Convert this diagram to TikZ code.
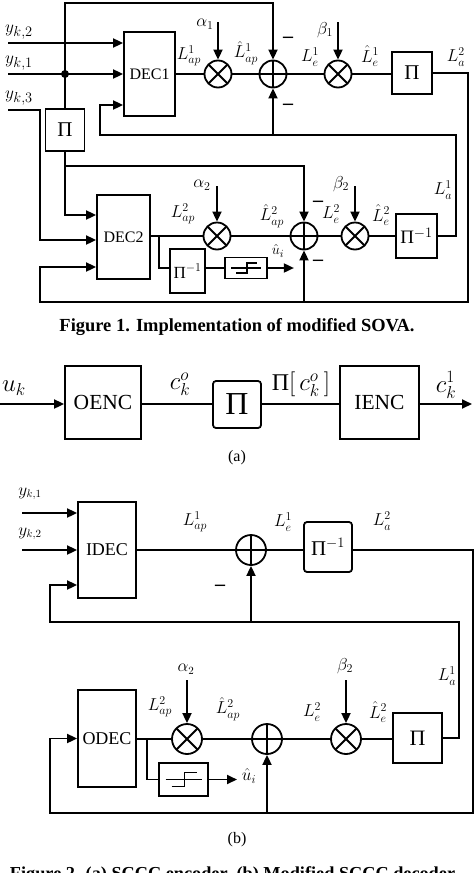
\documentclass[tikz,border=0pt]{standalone}
\usepackage{fontspec}
\usepackage{graphicx}
\setmainfont{Liberation Serif}
\usetikzlibrary{arrows.meta,calc}
\begin{document}
\begin{tikzpicture}[x=1pt,y=-1pt,
 wire/.style={line width=1.8pt},
 arr/.style={line width=1.8pt,-{Triangle[length=10pt,width=9pt]}},
 blk/.style={draw,line width=1.8pt,inner sep=0pt,font=\fontsize{16}{16}\selectfont},
 mult/.style={circle,draw,line width=1.8pt,minimum size=27pt,inner sep=0pt,
   path picture={\draw[line width=1.8pt] (path picture bounding box.north west)--(path picture bounding box.south east) (path picture bounding box.north east)--(path picture bounding box.south west);}},
 summ/.style={circle,draw,line width=1.8pt,minimum size=27pt,inner sep=0pt,
   path picture={\draw[line width=1.8pt] (path picture bounding box.north)--(path picture bounding box.south) (path picture bounding box.east)--(path picture bounding box.west);}},
 lab/.style={inner sep=0pt,font=\fontsize{18}{18}\selectfont},
 labb/.style={inner sep=0pt,font=\fontsize{24}{24}\selectfont},
 labc/.style={inner sep=0pt,font=\fontsize{18}{18}\selectfont},
 minus/.style={inner sep=0pt,font=\fontsize{20}{20}\selectfont\bfseries},
 qline/.style={line width=1.5pt}
]
\useasboundingbox (0,0) rectangle (474,873);
\clip (0,0) rectangle (474,873);

% ================= Figure 1 =================
\node[blk,minimum width=51pt,minimum height=84pt] (dec1) at (149.5,74) {DEC1};
\node[mult] (m1) at (218,74) {};
\node[summ] (s1) at (273,74) {};
\node[mult] (m2) at (338,74) {};
\node[blk,minimum width=40pt,minimum height=42pt,font=\fontsize{21}{21}\selectfont] (pa) at (412,73) {Π};
\node[blk,minimum width=39pt,minimum height=42pt,font=\fontsize{21}{21}\selectfont] (pb) at (65,130) {Π};

\node[blk,minimum width=53pt,minimum height=84pt] (dec2) at (123.5,237) {DEC2};
\node[mult] (m3) at (217,236) {};
\node[summ] (s2) at (304,236) {};
\node[mult] (m4) at (355,236) {};
\node[blk,minimum width=41pt,minimum height=44pt,font=\fontsize{19}{19}\selectfont] (pc) at (416.5,236) {Π$^{-1}$};
\node[blk,minimum width=35pt,minimum height=44pt,font=\fontsize{17}{17}\selectfont] (pd) at (187.5,271) {Π$^{-1}$};
\node[blk,minimum width=42pt,minimum height=21pt] (q1) at (246,268) {};
\draw[qline] ($(q1.center)+(-15,0)$) -- ++(30,0);
\draw[qline] ($(q1.center)+(-10,5)$) -- ++(11,0) -- ++(0,-10) -- ++(10,0);

\coordinate (yk2) at (8,43);
\coordinate (yk1) at (8,74);
\coordinate (yk3) at (8,110);
\coordinate (j1) at (65,74);
\coordinate (a1) at (218,22);
\coordinate (b1) at (338,22);
\coordinate (a2) at (217,186);
\coordinate (b2) at (355,186);

\draw[arr] (yk2) -- (dec1.west |- yk2);
\draw[arr] (yk1) -- (dec1.west |- yk1);
\fill (j1) circle (4pt);
\draw[arr] (j1) -- (65,3) -| (s1.north);
\draw[wire] (j1) -- (pb.north);
\draw[arr] (pb.south) |- ($(dec2.west)+(0,-22)$);
\draw[arr] (65,166) -| (s2.north);
\draw[arr] (yk3) -- (40,110) |- ($(dec2.west)+(0,3)$);
\draw[arr] (pa.east) -| (468,302) -| (40,267) -- ($(dec2.west)+(0,30)$);
\draw[arr] (304,302) -- (s2.south);
\draw[arr] (pc.east) -| (456,135) -| (100,105) -- ($(dec1.west)+(0,31)$);
\draw[arr] (273,135) -- (s1.south);

\draw[wire] (dec1.east) -- (m1.west) (m1.east) -- (s1.west) (s1.east) -- (m2.west) (m2.east) -- (pa.west |- m2);
\draw[arr] (a1) -- (m1.north);
\draw[arr] (b1) -- (m2.north);
\draw[wire] (dec2.east |- m3) -- (m3.west) (m3.east) -- (s2.west) (s2.east) -- (m4.west) (m4.east) -- (pc.west);
\draw[arr] (a2) -- (m3.north);
\draw[arr] (b2) -- (m4.north);
\draw[wire] (159,236) |- (pd.west |- q1);
\draw[wire] (pd.east |- q1) -- (q1.west);
\draw[arr] (q1.east) -- ++(26,0);

\node[lab,font=\fontsize{19}{19}\selectfont] at (19,32) {$y_{k,2}$};
\node[lab,font=\fontsize{19}{19}\selectfont] at (19,63) {$y_{k,1}$};
\node[lab,font=\fontsize{19}{19}\selectfont] at (19,98) {$y_{k,3}$};
\node[lab] at (205,24) {$\alpha_1$};
\node[lab] at (189,56) {$L^{1}_{ap}$};
\node[lab] at (246,53) {$\hat{L}^{1}_{ap}$};
\node[minus] at (288,40) {–};
\node[minus] at (288,107) {–};
\node[lab] at (310,57) {$L^{1}_{e}$};
\node[lab] at (325,30) {$\beta_1$};
\node[lab] at (370,56) {$\hat{L}^{1}_{e}$};
\node[lab] at (456,57) {$L^{2}_{a}$};

\node[lab] at (202,185) {$\alpha_2$};
\node[lab] at (183,214) {$L^{2}_{ap}$};
\node[lab] at (272,216) {$\hat{L}^{2}_{ap}$};
\node[lab] at (331,214) {$L^{2}_{e}$};
\node[lab] at (341,184) {$\beta_2$};
\node[lab] at (381,215) {$\hat{L}^{2}_{e}$};
\node[lab] at (443,190) {$L^{1}_{a}$};
\node[minus] at (318,204) {–};
\node[minus] at (318,263) {–};
\node[lab,font=\fontsize{15}{15}\selectfont] at (278,251) {$\hat{u}_i$};

\node[inner sep=0pt] (cap1) at (237,327) {\resizebox{355pt}{!}{\bfseries Figure 1. Implementation of modified SOVA.}};

% ================= Figure 2(a) =================
\coordinate (uk) at (0,404);
\coordinate (ck) at (472,404);
\node[blk,minimum width=76pt,minimum height=73pt,font=\fontsize{21.5}{21.5}\selectfont] (oenc) at (103,402.5) {OENC};
\node[blk,minimum width=48pt,minimum height=47pt,rounded corners=3pt,font=\fontsize{32}{32}\selectfont] (pi4) at (237,404.5) {Π};
\node[blk,minimum width=79pt,minimum height=73pt,font=\fontsize{21.5}{21.5}\selectfont] (ienc) at (379.5,402.5) {IENC};
\draw[arr] (uk) -- (oenc.west |- uk);
\draw[wire] (oenc.east |- uk) -- (pi4.west |- uk) (pi4.east |- uk) -- (ienc.west |- uk);
\draw[arr] (ienc.east |- uk) -- (ck);
\node[labb] at (14,388) {$u_k$};
\node[labb] at (180,384) {$c^{o}_{k}$};
\node[labb] at (301,384) {Π$\left[\,c^{o}_{k}\,\right]$};
\node[labb] at (446,385) {$c^{1}_{k}$};
\node[inner sep=0pt,font=\fontsize{16}{16}\selectfont] at (237,458) {(a)};

% ================= Figure 2(b) =================
\node[blk,minimum width=58pt,minimum height=96pt,font=\fontsize{18}{18}\selectfont] (idec) at (107,550) {IDEC};
\node[summ,minimum size=30pt] (s3) at (251,550) {};
\node[blk,minimum width=48pt,minimum height=50pt,rounded corners=3pt,font=\fontsize{21}{21}\selectfont] (pe) at (328,547) {Π$^{-1}$};

\node[blk,minimum width=58pt,minimum height=97pt,font=\fontsize{18}{18}\selectfont] (odec) at (107,738.5) {ODEC};
\node[mult,minimum size=30pt] (m5) at (187,739) {};
\node[summ,minimum size=30pt] (s4) at (267,739) {};
\node[mult,minimum size=30pt] (m6) at (346,739) {};
\node[blk,minimum width=49pt,minimum height=50pt,font=\fontsize{22}{22}\selectfont] (pf) at (417.5,738) {Π};
\node[blk,minimum width=49pt,minimum height=33pt] (q2) at (183.5,779.5) {};
\draw[qline] ($(q2.center)+(-18,0)$) -- ++(36,0);
\draw[qline] ($(q2.center)+(-12,7)$) -- ++(13,0) -- ++(0,-14) -- ++(12,0);

\coordinate (yb1) at (22,513);
\coordinate (yb2) at (22,550);
\coordinate (a3) at (187,680);
\coordinate (b3) at (346,680);

\draw[arr] (yb1) -- (idec.west |- yb1);
\draw[arr] (yb2) -- (idec.west |- yb2);
\draw[wire] (idec.east) -- (s3.west) (s3.east) -- (pe.west |- s3);
\draw[arr] (pe.east |- s3) -- (473,550) |- (50,813) |- (odec.west);
\draw[arr] (267,813) -- (s4.south);
\draw[arr] (pf.east) -| (459,622) -| (50,585) -- ($(idec.west)+(0,35)$);
\draw[arr] (251,622) -- (s3.south);
\draw[wire] (odec.east |- m5) -- (m5.west) (m5.east) -- (s4.west) (s4.east) -- (m6.west) (m6.east) -- (pf.west |- m6);
\draw[arr] (a3) -- (m5.north);
\draw[arr] (b3) -- (m6.north);
\draw[wire] (147,739) |- (q2.west);
\draw[arr] (q2.east) -- (237,779.5);

\node[lab,font=\fontsize{16}{16}\selectfont] at (30,494) {$y_{k,1}$};
\node[lab,font=\fontsize{16}{16}\selectfont] at (30,534) {$y_{k,2}$};
\node[labc] at (195,522) {$L^{1}_{ap}$};
\node[labc] at (283,522) {$L^{1}_{e}$};
\node[labc] at (382,521) {$L^{2}_{a}$};
\node[minus] at (220,588) {–};
\node[lab,font=\fontsize{16}{16}\selectfont] at (186,669) {$\alpha_2$};
\node[labc] at (160,707) {$L^{2}_{ap}$};
\node[labc] at (228,709) {$\hat{L}^{2}_{ap}$};
\node[labc] at (312,712) {$L^{2}_{e}$};
\node[labc] at (345,666) {$\beta_2$};
\node[labc] at (378,712) {$\hat{L}^{2}_{e}$};
\node[labc] at (447,676) {$L^{1}_{a}$};
\node[labc] at (249,776) {$\hat{u}_i$};
\node[inner sep=0pt,font=\fontsize{16}{16}\selectfont] at (237,840) {(b)};

\node[inner sep=0pt,anchor=north] (cap2) at (234,866) {\resizebox{448pt}{!}{\bfseries Figure 2. (a) SCCC encoder. (b) Modified SCCC decoder.}};
\end{tikzpicture}
\end{document}
